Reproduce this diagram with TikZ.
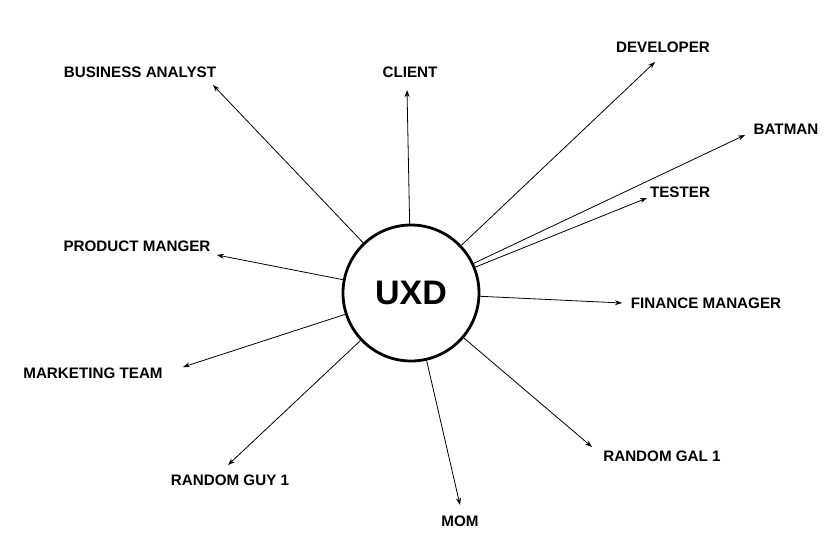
\documentclass[tikz,border=0pt]{standalone}
\usepackage{fontspec}
\setmainfont{Liberation Sans}
\usetikzlibrary{arrows.meta}
\begin{document}
\begin{tikzpicture}[x=0.5pt,y=-0.5pt,
  role/.style={font=\bfseries\fontsize{7.6}{9}\selectfont},
  link/.style={-{Stealth[length=3.5pt,width=2.5pt]},thin}]
  \useasboundingbox (0,0) rectangle (840,553);

  \node (uxd) [circle, draw, line width=1.4pt, minimum size=68pt,
    font=\bfseries\fontsize{17}{20}\selectfont] at (411,293) {UXD};

  \coordinate (ba) at (213,85);
  \coordinate (cl) at (407,90);
  \coordinate (dev) at (655,62);
  \coordinate (bat) at (745,135);
  \coordinate (tes) at (647,198);
  \coordinate (fin) at (622,303);
  \coordinate (gal) at (592,447);
  \coordinate (mom) at (460,505);
  \coordinate (guy) at (228,465);
  \coordinate (mkt) at (183,367);
  \coordinate (pm) at (217,255);

  \node (baL) [role] at (140,72) {BUSINESS ANALYST};
  \node (clL) [role] at (410,72) {CLIENT};
  \node (devL) [role] at (663,47) {DEVELOPER};
  \node (batL) [role] at (786,129) {BATMAN};
  \node (tesL) [role] at (680,192) {TESTER};
  \node (finL) [role] at (706,303) {FINANCE MANAGER};
  \node (galL) [role] at (662,456) {RANDOM GAL 1};
  \node (momL) [role] at (460,521) {MOM};
  \node (guyL) [role] at (230,480) {RANDOM GUY 1};
  \node (mktL) [role] at (93,373) {MARKETING TEAM};
  \node (pmL) [role] at (137,246) {PRODUCT MANGER};

  \foreach \t in {ba,cl,dev,bat,tes,fin,gal,mom,guy,mkt,pm}
    \draw [link] (uxd) -- (\t);

\end{tikzpicture}
\end{document}
